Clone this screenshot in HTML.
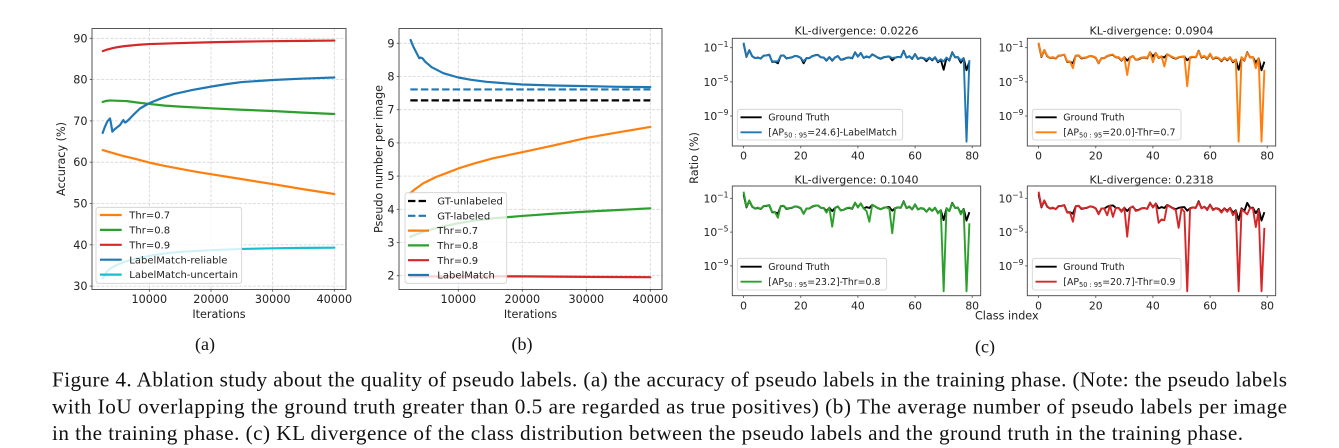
<!DOCTYPE html>
<html><head><meta charset="utf-8"><style>html,body{margin:0;padding:0;background:#fff;}svg{display:block;} .cap{font-family:"Liberation Serif","Times New Roman",Times,serif;}</style></head>
<body>
<svg width="1339" height="448" viewBox="0 0 1339 448" xmlns="http://www.w3.org/2000/svg" font-family="'DejaVu Sans', sans-serif">
<rect width="1339" height="448" fill="#fff"/>

<!-- ================= Panel (a) ================= -->
<g stroke="#d4d4d4" stroke-width="0.8" stroke-dasharray="3,1.6" fill="none">
  <line x1="149.35" y1="28.5" x2="149.35" y2="289.5"/>
  <line x1="211" y1="28.5" x2="211" y2="289.5"/>
  <line x1="272.65" y1="28.5" x2="272.65" y2="289.5"/>
  <line x1="334.3" y1="28.5" x2="334.3" y2="289.5"/>
  <line x1="92" y1="38.3" x2="346" y2="38.3"/>
  <line x1="92" y1="79.6" x2="346" y2="79.6"/>
  <line x1="92" y1="120.9" x2="346" y2="120.9"/>
  <line x1="92" y1="162.2" x2="346" y2="162.2"/>
  <line x1="92" y1="203.5" x2="346" y2="203.5"/>
  <line x1="92" y1="244.8" x2="346" y2="244.8"/>
  <line x1="92" y1="286.1" x2="346" y2="286.1"/>
</g>
<g transform="matrix(6.165 0 0 -4.13 87.7 410)" fill="none" stroke-linejoin="round" stroke-linecap="round">
  <polyline vector-effect="non-scaling-stroke" stroke="#ff7f0e" stroke-width="2.2" points="2.43,62.95 3.0,62.7 3.9,62.3 5.78,61.5 8,60.7 10,59.9 12.5,59.1 15,58.4 17.5,57.7 20,57.1 25,55.9 30,54.7 35,53.45 40,52.3"/>
  <polyline vector-effect="non-scaling-stroke" stroke="#2ca02c" stroke-width="2.2" points="2.43,74.6 3.0,74.85 3.6,74.95 4.5,74.9 6.3,74.8 8,74.45 10,74.1 12.5,73.7 15,73.45 20,73.05 25,72.7 30,72.4 35,72.0 40,71.67"/>
  <polyline vector-effect="non-scaling-stroke" stroke="#d62728" stroke-width="2.2" points="2.45,86.9 3,87.2 3.5,87.4 4,87.6 5,87.9 6,88.1 7,88.25 8,88.4 10,88.6 12,88.7 15,88.85 20,89.05 25,89.2 30,89.3 35,89.38 40,89.45"/>
  <polyline vector-effect="non-scaling-stroke" stroke="#1f77b4" stroke-width="2.2" points="2.43,67.1 2.8,68.6 3.2,69.9 3.62,70.6 3.8,69.2 4.0,67.4 4.4,68.0 5.24,69.0 5.78,70.2 6.05,69.6 6.3,69.8 6.86,70.6 7.5,71.6 8.48,73.0 10,74.3 12,75.5 14,76.5 17,77.5 20,78.3 22.5,78.9 25,79.4 30,79.9 35,80.25 40,80.5"/>
  <polyline vector-effect="non-scaling-stroke" stroke="#17becf" stroke-width="2.2" points="2.43,31.9 3.1,33.5 3.8,34.4 4.7,35.1 6,35.9 7.4,36.5 10,37.3 12.5,37.9 15,38.3 20,38.7 25,39.0 30,39.15 35,39.25 40,39.3"/>
</g>
<rect x="92" y="28.5" width="254" height="261" fill="none" stroke="#444" stroke-width="0.9"/>
<g stroke="#444" stroke-width="0.8">
  <line x1="89.8" y1="38.3" x2="92" y2="38.3"/><line x1="89.8" y1="79.6" x2="92" y2="79.6"/>
  <line x1="89.8" y1="120.9" x2="92" y2="120.9"/><line x1="89.8" y1="162.2" x2="92" y2="162.2"/>
  <line x1="89.8" y1="203.5" x2="92" y2="203.5"/><line x1="89.8" y1="244.8" x2="92" y2="244.8"/>
  <line x1="89.8" y1="286.1" x2="92" y2="286.1"/>
  <line x1="149.35" y1="289.5" x2="149.35" y2="291.7"/><line x1="211" y1="289.5" x2="211" y2="291.7"/>
  <line x1="272.65" y1="289.5" x2="272.65" y2="291.7"/><line x1="334.3" y1="289.5" x2="334.3" y2="291.7"/>
</g>
<g font-size="11.2" fill="#222" text-anchor="end">
  <text x="87.5" y="42.3">90</text><text x="87.5" y="83.6">80</text><text x="87.5" y="124.9">70</text>
  <text x="87.5" y="166.2">60</text><text x="87.5" y="207.5">50</text><text x="87.5" y="248.8">40</text>
  <text x="87.5" y="290.1">30</text>
</g>
<g font-size="11.2" fill="#222" text-anchor="middle">
  <text x="149.35" y="303">10000</text><text x="211" y="303">20000</text>
  <text x="272.65" y="303">30000</text><text x="334.3" y="303">40000</text>
  <text x="219" y="318">Iterations</text>
  <text transform="translate(65,159) rotate(-90)" x="0" y="0">Accuracy (%)</text>
</g>
<!-- legend (a) -->
<rect x="96" y="207.3" width="145.7" height="76" rx="2.5" fill="#fff" fill-opacity="0.8" stroke="#cfcfcf" stroke-width="0.8"/>
<g stroke-width="2.2">
  <line x1="100" y1="215" x2="121.7" y2="215" stroke="#ff7f0e"/>
  <line x1="100" y1="229.9" x2="121.7" y2="229.9" stroke="#2ca02c"/>
  <line x1="100" y1="244.8" x2="121.7" y2="244.8" stroke="#d62728"/>
  <line x1="100" y1="259.7" x2="121.7" y2="259.7" stroke="#1f77b4"/>
  <line x1="100" y1="274.6" x2="121.7" y2="274.6" stroke="#17becf"/>
</g>
<g font-size="10" fill="#222">
  <text x="129.3" y="218.6">Thr=0.7</text>
  <text x="129.3" y="233.5">Thr=0.8</text>
  <text x="129.3" y="248.4">Thr=0.9</text>
  <text x="129.3" y="263.3">LabelMatch-reliable</text>
  <text x="129.3" y="278.2">LabelMatch-uncertain</text>
</g>

<!-- ================= Panel (b) ================= -->
<g stroke="#d4d4d4" stroke-width="0.8" stroke-dasharray="3,1.6" fill="none">
  <line x1="458.3" y1="28.5" x2="458.3" y2="289.5"/>
  <line x1="522.3" y1="28.5" x2="522.3" y2="289.5"/>
  <line x1="586.3" y1="28.5" x2="586.3" y2="289.5"/>
  <line x1="650.3" y1="28.5" x2="650.3" y2="289.5"/>
  <line x1="399" y1="43.3" x2="662" y2="43.3"/>
  <line x1="399" y1="76.5" x2="662" y2="76.5"/>
  <line x1="399" y1="109.7" x2="662" y2="109.7"/>
  <line x1="399" y1="142.9" x2="662" y2="142.9"/>
  <line x1="399" y1="176.1" x2="662" y2="176.1"/>
  <line x1="399" y1="209.3" x2="662" y2="209.3"/>
  <line x1="399" y1="242.5" x2="662" y2="242.5"/>
  <line x1="399" y1="275.7" x2="662" y2="275.7"/>
</g>
<line x1="410.3" y1="100.4" x2="650.3" y2="100.4" stroke="#000" stroke-width="2.2" stroke-dasharray="7.4,3.2"/>
<line x1="410.3" y1="89.45" x2="650.3" y2="89.45" stroke="#1f77b4" stroke-width="2.2" stroke-dasharray="7.4,3.2"/>
<g transform="matrix(6.4 0 0 -33.2 394.3 342.1)" fill="none" stroke-linejoin="round" stroke-linecap="round">
  <polyline vector-effect="non-scaling-stroke" stroke="#ff7f0e" stroke-width="2.2" points="2.47,4.48 3.2,4.6 4.5,4.78 6.6,4.98 8,5.08 10,5.23 12.5,5.38 15.5,5.54 17.5,5.62 20,5.72 24.8,5.92 30,6.15 35,6.32 40,6.48"/>
  <polyline vector-effect="non-scaling-stroke" stroke="#2ca02c" stroke-width="2.2" points="2.47,3.17 3.5,3.25 5.1,3.36 7.5,3.48 10,3.58 12.5,3.66 15.5,3.73 20,3.8 25,3.87 30,3.93 35,3.98 40,4.03"/>
  <polyline vector-effect="non-scaling-stroke" stroke="#d62728" stroke-width="2.2" points="2.47,1.975 10,1.98 20,1.98 30,1.965 40,1.955"/>
  <polyline vector-effect="non-scaling-stroke" stroke="#1f77b4" stroke-width="2.2" points="2.55,9.1 2.97,8.9 3.5,8.7 3.9,8.55 4.1,8.57 4.4,8.55 4.8,8.45 5.84,8.28 7.66,8.1 10,7.97 12,7.9 14.4,7.84 17,7.8 20,7.76 24.8,7.73 30,7.71 35,7.69 40,7.68"/>
</g>
<rect x="399" y="28.5" width="263" height="261" fill="none" stroke="#444" stroke-width="0.9"/>
<g stroke="#444" stroke-width="0.8">
  <line x1="396.8" y1="43.3" x2="399" y2="43.3"/><line x1="396.8" y1="76.5" x2="399" y2="76.5"/>
  <line x1="396.8" y1="109.7" x2="399" y2="109.7"/><line x1="396.8" y1="142.9" x2="399" y2="142.9"/>
  <line x1="396.8" y1="176.1" x2="399" y2="176.1"/><line x1="396.8" y1="209.3" x2="399" y2="209.3"/>
  <line x1="396.8" y1="242.5" x2="399" y2="242.5"/><line x1="396.8" y1="275.7" x2="399" y2="275.7"/>
  <line x1="458.3" y1="289.5" x2="458.3" y2="291.7"/><line x1="522.3" y1="289.5" x2="522.3" y2="291.7"/>
  <line x1="586.3" y1="289.5" x2="586.3" y2="291.7"/><line x1="650.3" y1="289.5" x2="650.3" y2="291.7"/>
</g>
<g font-size="11.2" fill="#222" text-anchor="end">
  <text x="394.5" y="47.3">9</text><text x="394.5" y="80.5">8</text><text x="394.5" y="113.7">7</text>
  <text x="394.5" y="146.9">6</text><text x="394.5" y="180.1">5</text><text x="394.5" y="213.3">4</text>
  <text x="394.5" y="246.5">3</text><text x="394.5" y="279.7">2</text>
</g>
<g font-size="11.2" fill="#222" text-anchor="middle">
  <text x="458.3" y="303">10000</text><text x="522.3" y="303">20000</text>
  <text x="586.3" y="303">30000</text><text x="650.3" y="303">40000</text>
  <text x="530.5" y="318">Iterations</text>
  <text transform="translate(382.4,159) rotate(-90)" x="0" y="0">Pseudo number per image</text>
</g>
<!-- legend (b) -->
<rect x="405" y="192.7" width="101.7" height="90.6" rx="2.5" fill="#fff" fill-opacity="0.8" stroke="#cfcfcf" stroke-width="0.8"/>
<g stroke-width="2.2">
  <line x1="408" y1="201" x2="429" y2="201" stroke="#000" stroke-dasharray="7.4,3.2"/>
  <line x1="408" y1="215.8" x2="429" y2="215.8" stroke="#1f77b4" stroke-dasharray="7.4,3.2"/>
  <line x1="408" y1="230.6" x2="429" y2="230.6" stroke="#ff7f0e"/>
  <line x1="408" y1="245.4" x2="429" y2="245.4" stroke="#2ca02c"/>
  <line x1="408" y1="260.2" x2="429" y2="260.2" stroke="#d62728"/>
  <line x1="408" y1="275" x2="429" y2="275" stroke="#1f77b4"/>
</g>
<g font-size="10" fill="#222">
  <text x="437.3" y="204.6">GT-unlabeled</text>
  <text x="437.3" y="219.4">GT-labeled</text>
  <text x="437.3" y="234.2">Thr=0.7</text>
  <text x="437.3" y="249">Thr=0.8</text>
  <text x="437.3" y="263.8">Thr=0.9</text>
  <text x="437.3" y="278.6">LabelMatch</text>
</g>

<!-- ================= Panel (c) ================= -->
<g font-size="11" fill="#222" text-anchor="middle">
  <text x="856.5" y="34.3">KL-divergence: 0.0226</text>
  <text x="1151.5" y="34.3">KL-divergence: 0.0904</text>
  <text x="856.5" y="183.3">KL-divergence: 0.1040</text>
  <text x="1151.5" y="183.3">KL-divergence: 0.2318</text>
</g>

<!-- TL -->
<g transform="matrix(2.858 0 0 -8.54 743.6 39.16)" fill="none" stroke-linejoin="round">
  <polyline vector-effect="non-scaling-stroke" stroke="#000" stroke-width="1.9" points="0,-0.52 1,-2.08 2,-1.29 3,-1.99 4,-2.22 5,-2.15 6,-2.27 7,-1.94 8,-1.9 9,-1.82 10,-2.66 11,-2.64 12,-2.83 13,-1.94 14,-1.9 15,-2.26 16,-2.19 17,-2.12 18,-1.96 19,-2.02 20,-2.19 21,-2.82 22,-2.21 23,-2.22 24,-1.99 25,-1.88 26,-1.84 27,-2.12 28,-2.14 29,-2.51 30,-2.11 31,-2.51 32,-2.13 33,-1.98 34,-2.42 35,-2.36 36,-2.19 37,-2.15 38,-2.25 39,-1.55 40,-2.04 41,-1.62 42,-2.2 43,-2.04 44,-2.15 45,-1.78 46,-1.96 47,-2.17 48,-2.29 49,-2.13 50,-2.07 51,-2.04 52,-2.47 53,-2.17 54,-2.08 55,-2.13 56,-1.35 57,-2.17 58,-2 59,-2.31 60,-1.74 61,-2.32 62,-2.17 63,-2.24 64,-2.58 65,-2.18 66,-2.48 67,-2.13 68,-2.71 69,-2.41 70,-3.58 71,-2.19 72,-2.51 73,-1.54 74,-2.13 75,-2.11 76,-2.76 77,-2.25 78,-3.64 79,-2.64"/>
  <polyline vector-effect="non-scaling-stroke" stroke="#1f77b4" stroke-width="1.9" points="0,-0.41 1,-2.05 2,-1.3 3,-2.0 4,-2.2 5,-2.17 6,-2.25 7,-1.95 8,-1.9 9,-1.85 10,-2.6 11,-2.6 12,-2.6 13,-1.95 14,-1.9 15,-2.22 16,-2.2 17,-2.1 18,-1.97 19,-2.0 20,-2.2 21,-2.6 22,-2.2 23,-2.2 24,-2.0 25,-1.9 26,-1.85 27,-2.1 28,-2.15 29,-2.45 30,-2.1 31,-2.45 32,-2.15 33,-1.97 34,-2.4 35,-2.3 36,-2.2 37,-2.15 38,-2.2 39,-1.6 40,-2.05 41,-1.62 42,-2.2 43,-2.0 44,-2.15 45,-1.8 46,-1.96 47,-2.15 48,-2.25 49,-2.1 50,-2.05 51,-2.05 52,-2.2 53,-2.15 54,-2.1 55,-2.1 56,-1.4 57,-2.15 58,-2 59,-2.25 60,-1.75 61,-2.3 62,-2.15 63,-2.2 64,-2.4 65,-2.15 66,-2.4 67,-2.1 68,-2.6 69,-2.35 70,-2.6 71,-2.15 72,-2.45 73,-1.6 74,-2.1 75,-2.1 76,-2.5 77,-2.2 78,-12 79,-2.45"/>
</g>
<!-- TR -->
<g transform="matrix(2.858 0 0 -8.54 1038.6 39.16)" fill="none" stroke-linejoin="round">
  <polyline vector-effect="non-scaling-stroke" stroke="#000" stroke-width="1.9" points="0,-0.52 1,-2.08 2,-1.29 3,-1.99 4,-2.22 5,-2.15 6,-2.27 7,-1.94 8,-1.9 9,-1.82 10,-2.66 11,-2.64 12,-2.83 13,-1.94 14,-1.9 15,-2.26 16,-2.19 17,-2.12 18,-1.96 19,-2.02 20,-2.19 21,-2.82 22,-2.21 23,-2.22 24,-1.99 25,-1.88 26,-1.84 27,-2.12 28,-2.14 29,-2.51 30,-2.11 31,-2.51 32,-2.13 33,-1.98 34,-2.42 35,-2.36 36,-2.19 37,-2.15 38,-2.25 39,-1.55 40,-2.04 41,-1.62 42,-2.2 43,-2.04 44,-2.15 45,-1.78 46,-1.96 47,-2.17 48,-2.29 49,-2.13 50,-2.07 51,-2.04 52,-2.47 53,-2.17 54,-2.08 55,-2.13 56,-1.35 57,-2.17 58,-2 59,-2.31 60,-1.74 61,-2.32 62,-2.17 63,-2.24 64,-2.58 65,-2.18 66,-2.48 67,-2.13 68,-2.71 69,-2.41 70,-3.58 71,-2.19 72,-2.51 73,-1.54 74,-2.13 75,-2.11 76,-2.76 77,-2.25 78,-3.64 79,-2.64"/>
  <polyline vector-effect="non-scaling-stroke" stroke="#ff7f0e" stroke-width="1.9" points="0,-0.41 1,-2.0 2,-1.25 3,-1.95 4,-2.2 5,-2.1 6,-2.25 7,-1.9 8,-1.88 9,-1.8 10,-2.6 11,-2.6 12,-3.4 13,-1.9 14,-1.88 15,-2.2 16,-2.15 17,-2.1 18,-1.95 19,-2.0 20,-2.15 21,-2.8 22,-2.2 23,-2.2 24,-1.95 25,-1.85 26,-1.8 27,-2.1 28,-2.1 29,-2.45 30,-2.1 31,-4.2 32,-2.1 33,-1.95 34,-2.4 35,-2.3 36,-2.15 37,-2.1 38,-2.2 39,-1.5 40,-2.7 41,-1.6 42,-2.15 43,-2.0 44,-3.2 45,-1.75 46,-1.95 47,-2.1 48,-2.25 49,-2.1 50,-2.05 51,-2.0 52,-5.5 53,-2.1 54,-2.05 55,-2.1 56,-1.4 57,-2.1 58,-1.95 59,-2.25 60,-1.7 61,-2.3 62,-2.1 63,-2.2 64,-2.5 65,-2.15 66,-2.4 67,-2.1 68,-2.6 69,-2.35 70,-12 71,-2.1 72,-2.45 73,-1.6 74,-2.1 75,-2.1 76,-3.4 77,-2.2 78,-12 79,-3.6"/>
</g>
<!-- BL -->
<g transform="matrix(2.858 0 0 -8.45 743.6 189.85)" fill="none" stroke-linejoin="round">
  <polyline vector-effect="non-scaling-stroke" stroke="#000" stroke-width="1.9" points="0,-0.52 1,-2.08 2,-1.29 3,-1.99 4,-2.22 5,-2.15 6,-2.27 7,-1.94 8,-1.9 9,-1.82 10,-2.66 11,-2.64 12,-2.83 13,-1.94 14,-1.9 15,-2.26 16,-2.19 17,-2.12 18,-1.96 19,-2.02 20,-2.19 21,-2.82 22,-2.21 23,-2.22 24,-1.99 25,-1.88 26,-1.84 27,-2.12 28,-2.14 29,-2.51 30,-2.11 31,-2.51 32,-2.13 33,-1.98 34,-2.42 35,-2.36 36,-2.19 37,-2.15 38,-2.25 39,-1.55 40,-2.04 41,-1.62 42,-2.2 43,-2.04 44,-2.15 45,-1.78 46,-1.96 47,-2.17 48,-2.29 49,-2.13 50,-2.07 51,-2.04 52,-2.47 53,-2.17 54,-2.08 55,-2.13 56,-1.35 57,-2.17 58,-2 59,-2.31 60,-1.74 61,-2.32 62,-2.17 63,-2.24 64,-2.58 65,-2.18 66,-2.48 67,-2.13 68,-2.71 69,-2.41 70,-3.58 71,-2.19 72,-2.51 73,-1.54 74,-2.13 75,-2.11 76,-2.76 77,-2.25 78,-3.64 79,-2.64"/>
  <polyline vector-effect="non-scaling-stroke" stroke="#2ca02c" stroke-width="1.9" points="0,-0.22 1,-2.0 2,-1.25 3,-1.95 4,-2.2 5,-2.1 6,-2.25 7,-1.9 8,-1.88 9,-1.8 10,-2.6 11,-2.65 12,-3.3 13,-1.9 14,-1.88 15,-2.2 16,-2.15 17,-2.1 18,-1.95 19,-2.0 20,-2.15 21,-2.85 22,-2.2 23,-2.2 24,-1.95 25,-1.85 26,-1.85 27,-2.1 28,-2.15 29,-2.7 30,-2.1 31,-4.36 32,-2.1 33,-1.95 34,-2.45 35,-2.35 36,-2.15 37,-2.1 38,-2.2 39,-1.5 40,-2.1 41,-1.6 42,-2.2 43,-2.5 44,-3.77 45,-1.75 46,-1.95 47,-2.15 48,-2.3 49,-2.1 50,-2.1 51,-2.2 52,-5.14 53,-2.15 54,-2.05 55,-2.1 56,-1.4 57,-2.15 58,-1.95 59,-2.3 60,-1.7 61,-2.3 62,-2.15 63,-2.2 64,-2.6 65,-2.15 66,-2.45 67,-2.1 68,-2.8 69,-2.4 70,-12 71,-2.15 72,-2.5 73,-1.6 74,-2.15 75,-2.1 76,-2.9 77,-2.3 78,-12 79,-3.96"/>
</g>
<!-- BR -->
<g transform="matrix(2.858 0 0 -8.45 1038.6 189.85)" fill="none" stroke-linejoin="round">
  <polyline vector-effect="non-scaling-stroke" stroke="#000" stroke-width="1.9" points="0,-0.52 1,-2.08 2,-1.29 3,-1.99 4,-2.22 5,-2.15 6,-2.27 7,-1.94 8,-1.9 9,-1.82 10,-2.66 11,-2.64 12,-2.83 13,-1.94 14,-1.9 15,-2.26 16,-2.19 17,-2.12 18,-1.96 19,-2.02 20,-2.19 21,-2.82 22,-2.21 23,-2.22 24,-1.99 25,-1.88 26,-1.84 27,-2.12 28,-2.14 29,-2.51 30,-2.11 31,-2.51 32,-2.13 33,-1.98 34,-2.42 35,-2.36 36,-2.19 37,-2.15 38,-2.25 39,-1.55 40,-2.04 41,-1.62 42,-2.2 43,-2.04 44,-2.15 45,-1.78 46,-1.96 47,-2.17 48,-2.29 49,-2.13 50,-2.07 51,-2.04 52,-2.47 53,-2.17 54,-2.08 55,-2.13 56,-1.35 57,-2.17 58,-2 59,-2.31 60,-1.74 61,-2.32 62,-2.17 63,-2.24 64,-2.58 65,-2.18 66,-2.48 67,-2.13 68,-2.71 69,-2.41 70,-3.58 71,-2.19 72,-2.51 73,-1.54 74,-2.13 75,-2.11 76,-2.76 77,-2.25 78,-3.64 79,-2.64"/>
  <polyline vector-effect="non-scaling-stroke" stroke="#d62728" stroke-width="1.9" points="0,-0.22 1,-2.0 2,-1.25 3,-1.95 4,-2.2 5,-2.1 6,-2.3 7,-1.9 8,-1.9 9,-1.8 10,-2.7 11,-2.7 12,-3.77 13,-1.95 14,-1.88 15,-2.2 16,-2.15 17,-2.1 18,-1.95 19,-2.0 20,-2.2 21,-2.9 22,-2.2 23,-2.25 24,-3.0 25,-1.85 26,-3.2 27,-2.15 28,-2.15 29,-2.6 30,-2.1 31,-5.54 32,-2.15 33,-1.95 34,-2.5 35,-2.4 36,-2.2 37,-2.15 38,-2.25 39,-1.5 40,-2.1 41,-1.6 42,-3.9 43,-3.5 44,-3.6 45,-1.8 46,-2.0 47,-2.2 48,-2.4 49,-4.5 50,-2.2 51,-2.6 52,-12 53,-2.2 54,-2.1 55,-2.15 56,-1.45 57,-2.2 58,-2.0 59,-2.4 60,-1.75 61,-2.4 62,-2.2 63,-2.3 64,-2.7 65,-2.2 66,-2.6 67,-2.15 68,-3.0 69,-2.5 70,-12 71,-2.3 72,-2.6 73,-2.9 74,-2.15 75,-2.2 76,-4.4 77,-2.4 78,-12 79,-4.5"/>
</g>

<g fill="none" stroke="#444" stroke-width="0.9">
  <rect x="732.3" y="38.3" width="248.4" height="107.7"/>
  <rect x="1027.3" y="38.3" width="248.4" height="107.7"/>
  <rect x="732.3" y="186" width="248.4" height="109.7"/>
  <rect x="1027.3" y="186" width="248.4" height="109.7"/>
</g>
<g stroke="#444" stroke-width="0.8">
  <line x1="730.1" y1="47.7" x2="732.3" y2="47.7"/><line x1="730.1" y1="81.9" x2="732.3" y2="81.9"/><line x1="730.1" y1="116" x2="732.3" y2="116"/>
  <line x1="1025.1" y1="47.7" x2="1027.3" y2="47.7"/><line x1="1025.1" y1="81.9" x2="1027.3" y2="81.9"/><line x1="1025.1" y1="116" x2="1027.3" y2="116"/>
  <line x1="730.1" y1="198.3" x2="732.3" y2="198.3"/><line x1="730.1" y1="232.1" x2="732.3" y2="232.1"/><line x1="730.1" y1="265.9" x2="732.3" y2="265.9"/>
  <line x1="1025.1" y1="198.3" x2="1027.3" y2="198.3"/><line x1="1025.1" y1="232.1" x2="1027.3" y2="232.1"/><line x1="1025.1" y1="265.9" x2="1027.3" y2="265.9"/>
  <line x1="743.6" y1="146" x2="743.6" y2="148.2"/><line x1="800.8" y1="146" x2="800.8" y2="148.2"/><line x1="857.9" y1="146" x2="857.9" y2="148.2"/><line x1="915.1" y1="146" x2="915.1" y2="148.2"/><line x1="972.2" y1="146" x2="972.2" y2="148.2"/>
  <line x1="1038.6" y1="146" x2="1038.6" y2="148.2"/><line x1="1095.8" y1="146" x2="1095.8" y2="148.2"/><line x1="1152.9" y1="146" x2="1152.9" y2="148.2"/><line x1="1210.1" y1="146" x2="1210.1" y2="148.2"/><line x1="1267.2" y1="146" x2="1267.2" y2="148.2"/>
  <line x1="743.6" y1="295.7" x2="743.6" y2="297.9"/><line x1="800.8" y1="295.7" x2="800.8" y2="297.9"/><line x1="857.9" y1="295.7" x2="857.9" y2="297.9"/><line x1="915.1" y1="295.7" x2="915.1" y2="297.9"/><line x1="972.2" y1="295.7" x2="972.2" y2="297.9"/>
  <line x1="1038.6" y1="295.7" x2="1038.6" y2="297.9"/><line x1="1095.8" y1="295.7" x2="1095.8" y2="297.9"/><line x1="1152.9" y1="295.7" x2="1152.9" y2="297.9"/><line x1="1210.1" y1="295.7" x2="1210.1" y2="297.9"/><line x1="1267.2" y1="295.7" x2="1267.2" y2="297.9"/>
</g>
<g font-size="10.8" fill="#222" text-anchor="middle">
  <text x="743.6" y="159.5">0</text><text x="800.8" y="159.5">20</text><text x="857.9" y="159.5">40</text><text x="915.1" y="159.5">60</text><text x="972.2" y="159.5">80</text>
  <text x="1038.6" y="159.5">0</text><text x="1095.8" y="159.5">20</text><text x="1152.9" y="159.5">40</text><text x="1210.1" y="159.5">60</text><text x="1267.2" y="159.5">80</text>
  <text x="743.6" y="309.3">0</text><text x="800.8" y="309.3">20</text><text x="857.9" y="309.3">40</text><text x="915.1" y="309.3">60</text><text x="972.2" y="309.3">80</text>
  <text x="1038.6" y="309.3">0</text><text x="1095.8" y="309.3">20</text><text x="1152.9" y="309.3">40</text><text x="1210.1" y="309.3">60</text><text x="1267.2" y="309.3">80</text>
</g>
<g font-size="10.8" fill="#222" text-anchor="end">
  <text x="728.5" y="51.7">10<tspan font-size="7.6" dy="-4.8">−1</tspan></text>
  <text x="728.5" y="85.9">10<tspan font-size="7.6" dy="-4.8">−5</tspan></text>
  <text x="728.5" y="120">10<tspan font-size="7.6" dy="-4.8">−9</tspan></text>
  <text x="1023.5" y="51.7">10<tspan font-size="7.6" dy="-4.8">−1</tspan></text>
  <text x="1023.5" y="85.9">10<tspan font-size="7.6" dy="-4.8">−5</tspan></text>
  <text x="1023.5" y="120">10<tspan font-size="7.6" dy="-4.8">−9</tspan></text>
  <text x="728.5" y="202.3">10<tspan font-size="7.6" dy="-4.8">−1</tspan></text>
  <text x="728.5" y="236.1">10<tspan font-size="7.6" dy="-4.8">−5</tspan></text>
  <text x="728.5" y="269.9">10<tspan font-size="7.6" dy="-4.8">−9</tspan></text>
  <text x="1023.5" y="202.3">10<tspan font-size="7.6" dy="-4.8">−1</tspan></text>
  <text x="1023.5" y="236.1">10<tspan font-size="7.6" dy="-4.8">−5</tspan></text>
  <text x="1023.5" y="269.9">10<tspan font-size="7.6" dy="-4.8">−9</tspan></text>
</g>
<g font-size="11.2" fill="#222">
  <text transform="translate(698,158) rotate(-90)" x="0" y="0" text-anchor="middle">Ratio (%)</text>
  <text x="975" y="319.5">Class index</text>
</g>

<g fill="#fff" fill-opacity="0.8" stroke="#cfcfcf" stroke-width="0.8">
  <rect x="737.3" y="109.3" width="165.4" height="30.7" rx="2.5"/>
  <rect x="1032.3" y="109.3" width="148.7" height="30.7" rx="2.5"/>
  <rect x="737.3" y="258.3" width="149.4" height="31.7" rx="2.5"/>
  <rect x="1032.3" y="258.3" width="148.7" height="31.7" rx="2.5"/>
</g>
<g stroke-width="1.9">
  <line x1="740.5" y1="117.3" x2="761.7" y2="117.3" stroke="#000"/>
  <line x1="740.5" y1="132.3" x2="761.7" y2="132.3" stroke="#1f77b4"/>
  <line x1="1035.5" y1="117.3" x2="1056.7" y2="117.3" stroke="#000"/>
  <line x1="1035.5" y1="132.3" x2="1056.7" y2="132.3" stroke="#ff7f0e"/>
  <line x1="740.5" y1="266.7" x2="761.7" y2="266.7" stroke="#000"/>
  <line x1="740.5" y1="281.7" x2="761.7" y2="281.7" stroke="#2ca02c"/>
  <line x1="1035.5" y1="266.7" x2="1056.7" y2="266.7" stroke="#000"/>
  <line x1="1035.5" y1="281.7" x2="1056.7" y2="281.7" stroke="#d62728"/>
</g>
<g font-size="9.4" fill="#222">
  <text x="768.3" y="120.7">Ground Truth</text>
  <text x="768.3" y="135.7">[AP<tspan font-size="6.6" dy="2">50 : 95</tspan><tspan dy="-2">=24.6]-LabelMatch</tspan></text>
  <text x="1063.3" y="120.7">Ground Truth</text>
  <text x="1063.3" y="135.7">[AP<tspan font-size="6.6" dy="2">50 : 95</tspan><tspan dy="-2">=20.0]-Thr=0.7</tspan></text>
  <text x="768.3" y="270.1">Ground Truth</text>
  <text x="768.3" y="285.1">[AP<tspan font-size="6.6" dy="2">50 : 95</tspan><tspan dy="-2">=23.2]-Thr=0.8</tspan></text>
  <text x="1063.3" y="270.1">Ground Truth</text>
  <text x="1063.3" y="285.1">[AP<tspan font-size="6.6" dy="2">50 : 95</tspan><tspan dy="-2">=20.7]-Thr=0.9</tspan></text>
</g>

<g class="cap" style="font-family:'Liberation Serif','Times New Roman',Times,serif" font-size="18" fill="#111" text-anchor="middle">
  <text x="205" y="350">(a)</text>
  <text x="522" y="350">(b)</text>
  <text x="985" y="352.5">(c)</text>
</g>

<g class="cap" style="font-family:'Liberation Serif','Times New Roman',Times,serif" font-size="21.2" fill="#111">
  <text x="52" y="386.7" textLength="1235" lengthAdjust="spacing">Figure 4. Ablation study about the quality of pseudo labels. (a) the accuracy of pseudo labels in the training phase. (Note: the pseudo labels</text>
  <text x="52" y="413.4" textLength="1235" lengthAdjust="spacing">with IoU overlapping the ground truth greater than 0.5 are regarded as true positives) (b) The average number of pseudo labels per image</text>
  <text x="52" y="440" textLength="1191" lengthAdjust="spacing">in the training phase. (c) KL divergence of the class distribution between the pseudo labels and the ground truth in the training phase.</text>
</g>
</svg>
</body></html>
